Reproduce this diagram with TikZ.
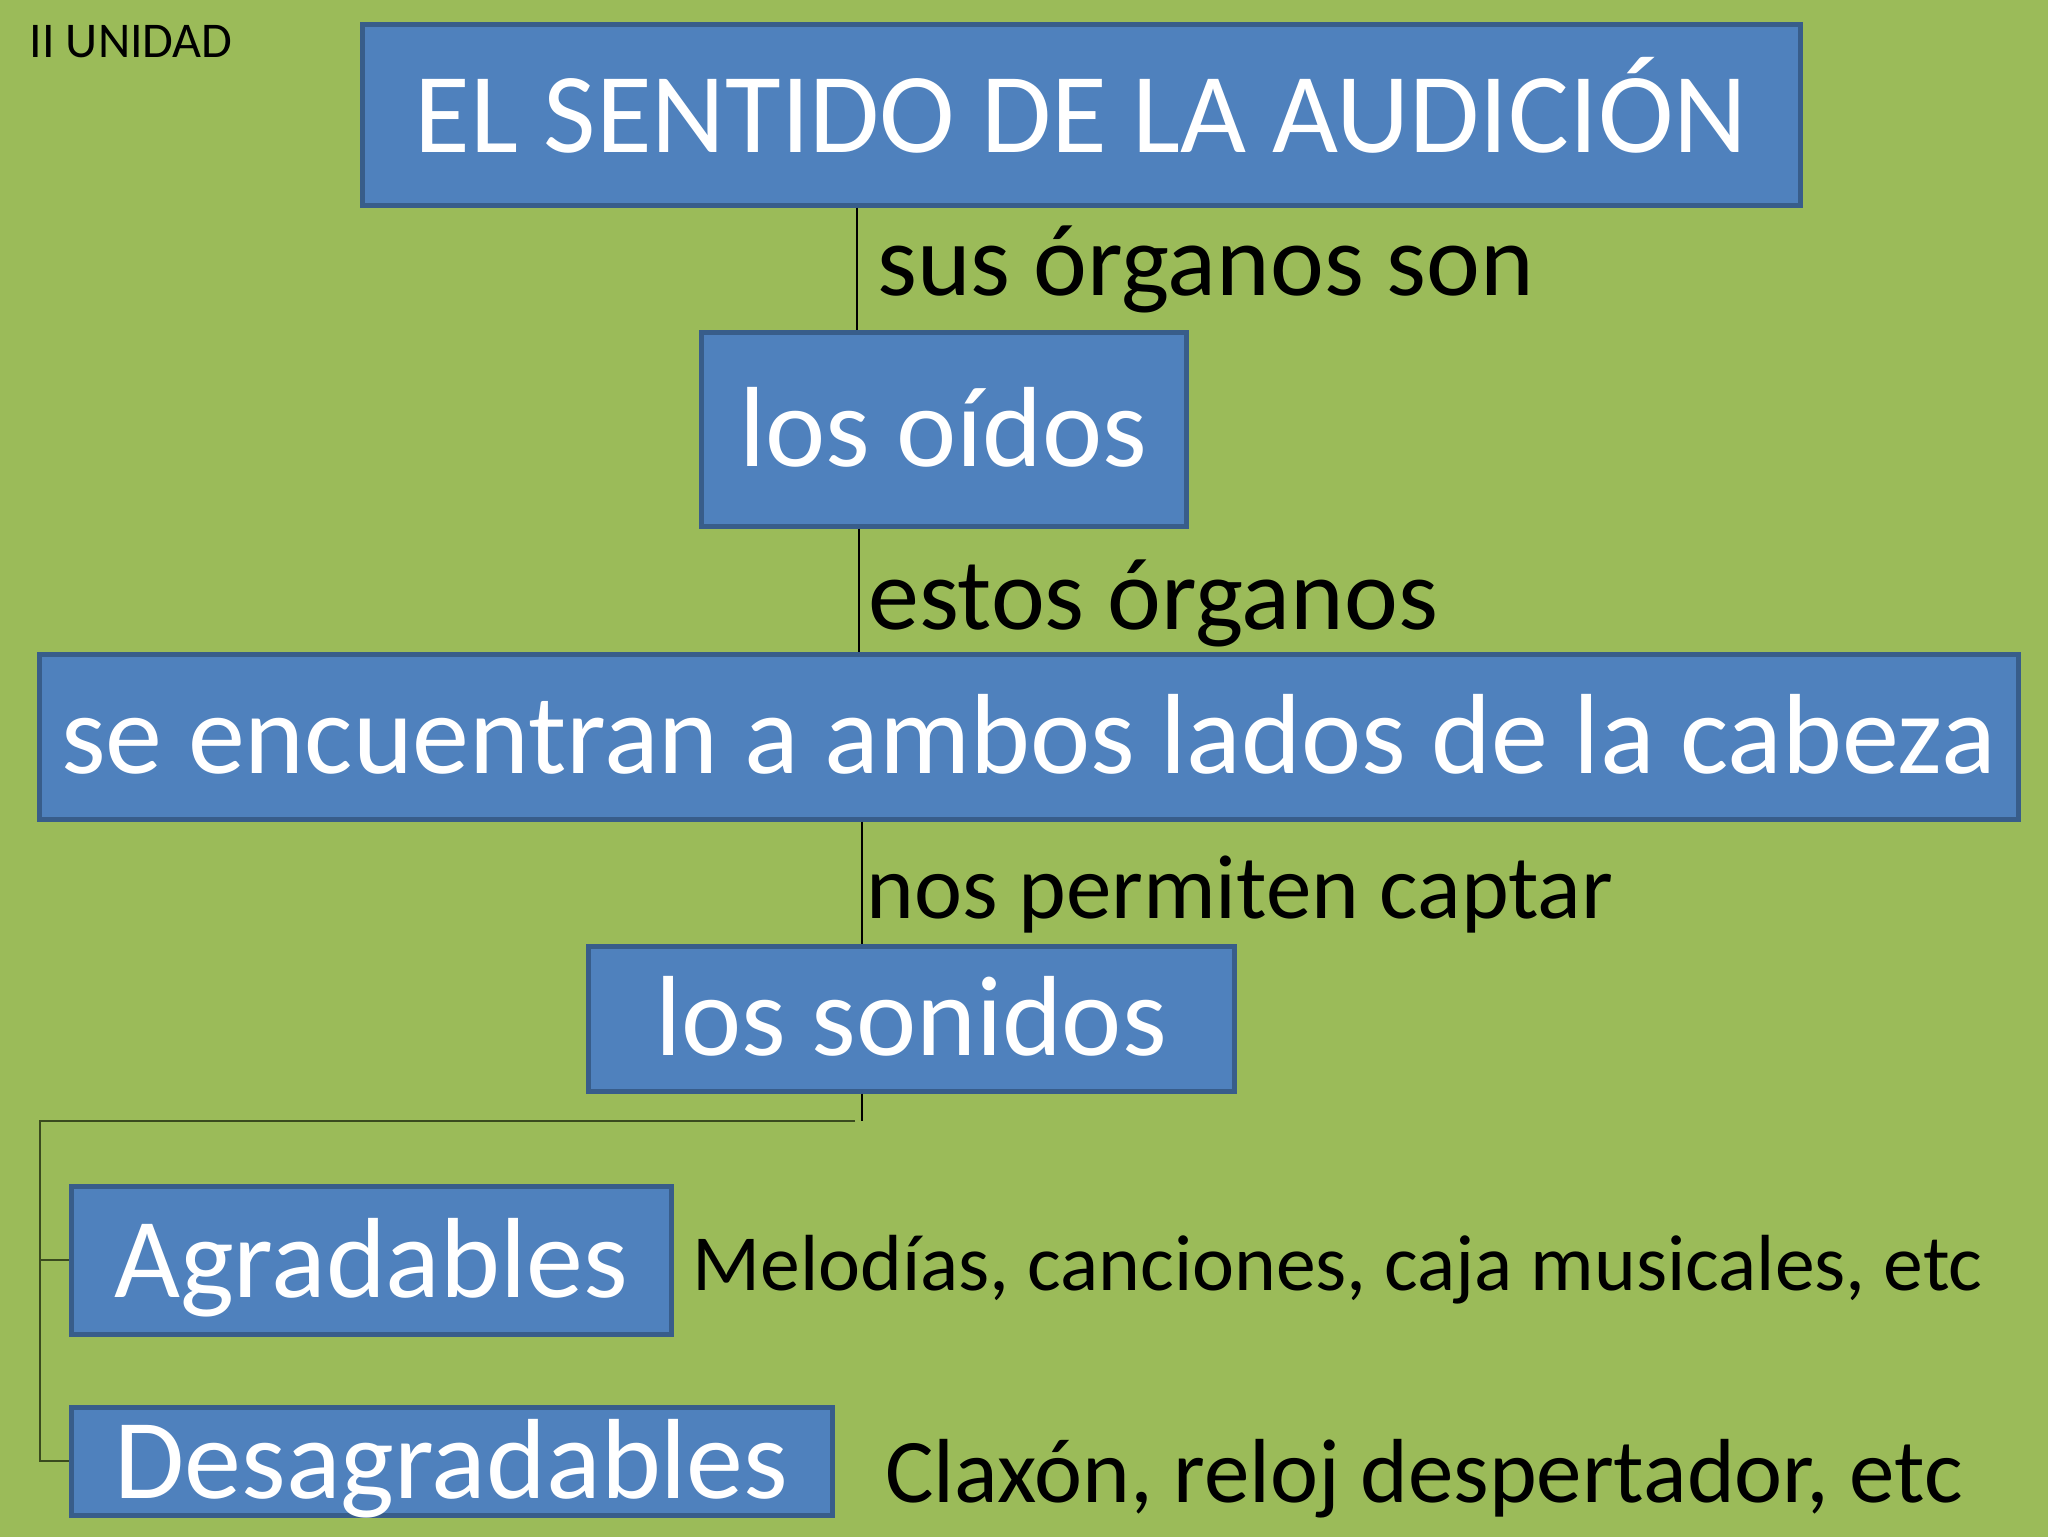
\documentclass[tikz,border=0pt]{standalone}
\usepackage{fontspec}
\setmainfont{Carlito}
\definecolor{bggreen}{HTML}{9BBB59}
\definecolor{boxblue}{HTML}{4F81BD}
\definecolor{boxedge}{HTML}{385D8A}
\definecolor{darkolive}{HTML}{3A4A1E}
\tikzset{
  conceptbox/.style={draw=boxedge, fill=boxblue, line width=2.5pt, text=white,
    font=\fontsize{57}{60}\selectfont, text height=37pt, text depth=0pt,
    inner sep=0pt, anchor=center},
  linklabel/.style={anchor=base west, inner sep=0pt, text=black},
  linkline/.style={draw=black, line width=1pt},
  bracketline/.style={draw=darkolive, line width=1.1pt}
}
\begin{document}
\begin{tikzpicture}[x=0.5pt,y=-0.5pt]
\useasboundingbox (0,0) rectangle (2048,1536);
\fill[bggreen] (-10,-10) rectangle (2058,1546);

\node[linklabel, font=\fontsize{25}{28}\selectfont] (unidad) at (29,58) {II UNIDAD};

\node[conceptbox, minimum width=719pt, minimum height=90pt] (title) at (1081,115) {EL SENTIDO DE LA AUDICIÓN};
\node[conceptbox, minimum width=242.5pt, minimum height=97pt] (oidos) at (943.5,429) {los oídos};
\node[conceptbox, minimum width=989.5pt, minimum height=82.5pt] (cabeza) at (1028.5,736.5) {se encuentran a ambos lados de la cabeza};
\node[conceptbox, minimum width=323pt, minimum height=72.5pt] (sonidos) at (911,1018.5) {los sonidos};
\node[conceptbox, minimum width=300pt, minimum height=74pt] (agr) at (371,1260) {Agradables};
\node[conceptbox, minimum width=380.5pt, minimum height=54pt] (des) at (451.5,1461) {Desagradables};

\node[linklabel, font=\fontsize{51}{54}\selectfont] (l1) at (877,295) {sus órganos son};
\node[linklabel, font=\fontsize{51}{54}\selectfont] (l2) at (868,629) {estos órganos};
\node[linklabel, font=\fontsize{45.5}{50}\selectfont] (l3) at (866,918) {nos permiten captar};
\node[linklabel, font=\fontsize{39.8}{44}\selectfont] (ex1) at (692,1290) {Melodías, canciones, caja musicales, etc};
\node[linklabel, font=\fontsize{45.5}{48}\selectfont] (ex2) at (885,1502) {Claxón, reloj despertador, etc};

\coordinate (c1) at (857,0);
\coordinate (c2) at (859,0);
\coordinate (c3) at (862,0);
\coordinate (hb) at (0,1121);
\coordinate (hl) at (40,1121);
\coordinate (hr) at (855,1121);

\draw[linkline] (title.south -| c1) -- (oidos.north -| c1);
\draw[linkline] (oidos.south -| c2) -- (cabeza.north -| c2);
\draw[linkline] (cabeza.south -| c3) -- (sonidos.north -| c3);
\draw[linkline] (sonidos.south -| c3) -- (hb -| c3);
\draw[bracketline] (hr) -- (hl) -- (hl |- des.west) -- (des.west);
\draw[bracketline] (hl |- agr.west) -- (agr.west);
\end{tikzpicture}
\end{document}
